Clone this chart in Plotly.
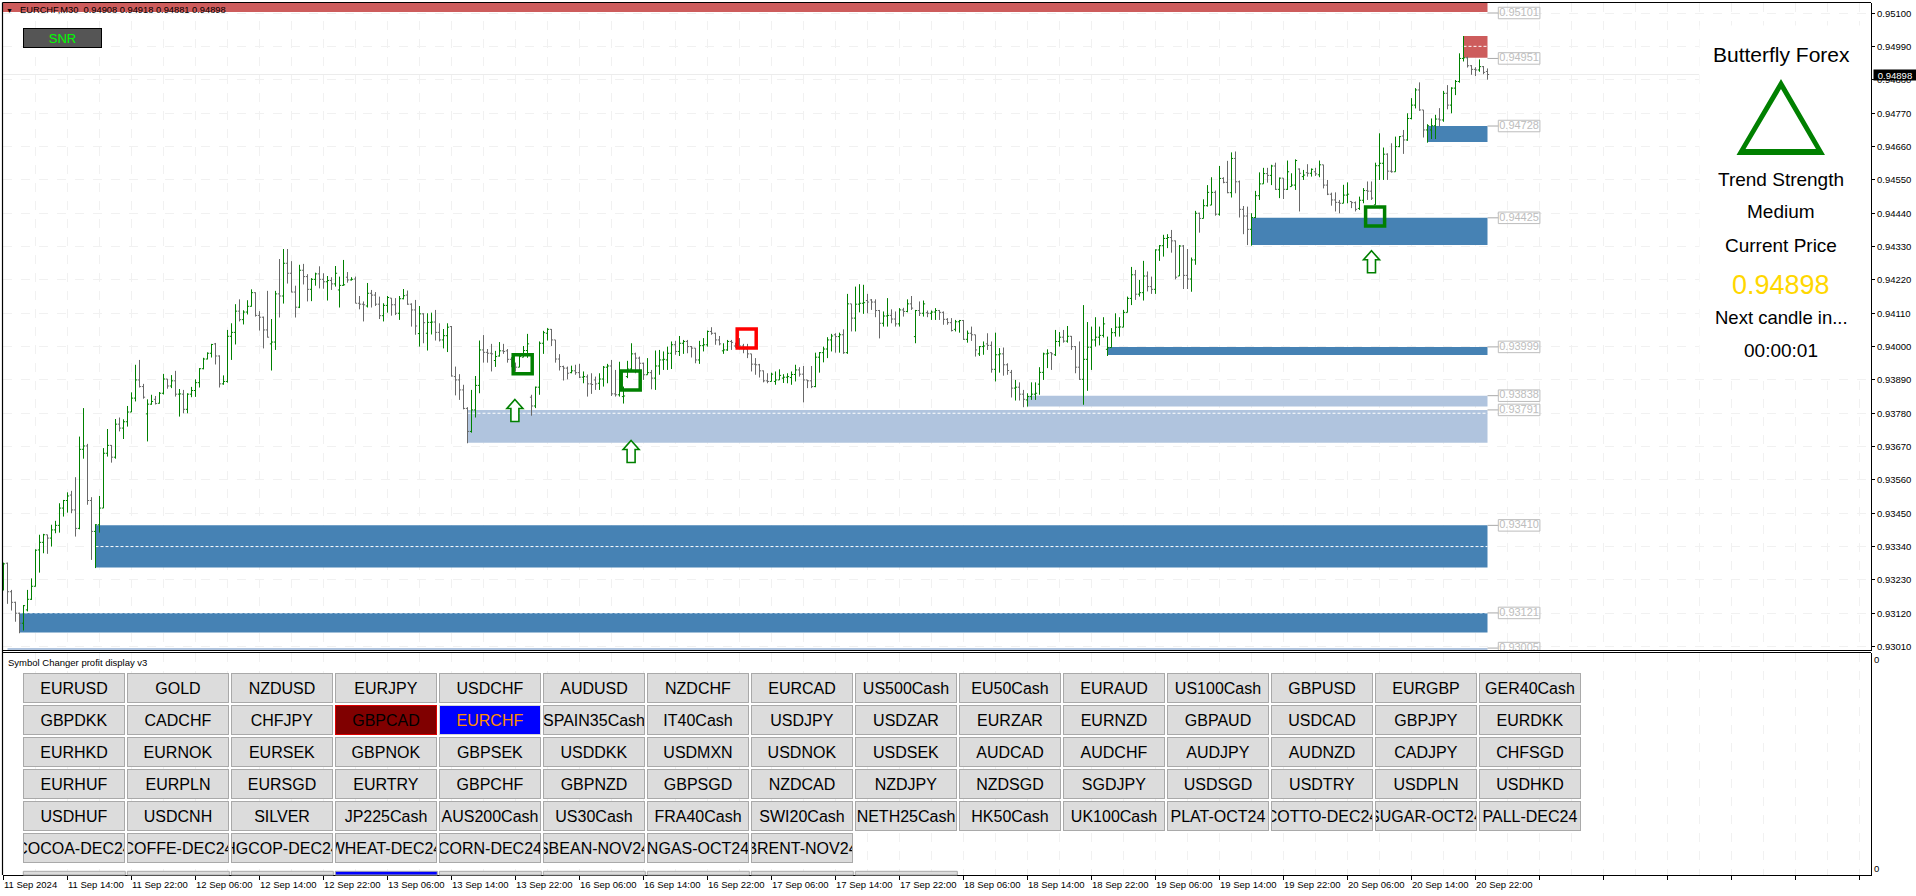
import plotly.graph_objects as go

# prices are kept in points (1e-5)
bar_open = [
    93208,93285,93191,93156,93120,93087,93131,93166,93209,93329,93354,93379,93368,93395,93410,93467,93492,93510,93461,93400,
    93661,93672,93492,93390,93412,93467,93648,93674,93635,93744,93731,93752,93784,93830,93890,93868,93778,93810,93826,93813,
    93846,93893,93870,93887,93843,93843,93793,93843,93855,93881,93927,93959,93978,94009,93969,93877,93885,94034,94047,94117,
    94089,94114,94133,94178,94103,94097,94055,94009,94015,94174,94167,94275,94242,94180,94130,94252,94231,94189,94222,94240,
    94222,94214,94218,94207,94187,94202,94229,94220,94223,94143,94140,94134,94176,94170,94140,94102,94136,94160,94138,94110,
    94158,94170,94140,94121,94043,94108,94044,94080,94081,94047,94022,94036,94066,93901,93890,93857,93796,93720,93791,93872,
    93989,93981,93978,93954,93969,93986,93986,93958,93945,93932,93965,93987,93833,93804,93866,94011,94044,94057,94022,93959,
    93934,93929,93914,93920,93914,93899,93900,93877,93890,93879,93893,93932,93936,93844,93841,93835,93901,93926,93976,93962,
    93945,93907,93914,93896,93936,93956,93956,93978,94006,93984,94011,94017,94000,93995,93956,94003,94006,94050,94044,94022,
    93986,93989,94017,94002,94011,94002,93992,93976,93942,93940,93920,93887,93885,93885,93890,93896,93899,93898,93908,93923,
    93909,93890,93887,93868,93965,93980,93992,94022,94039,94033,94039,93980,94141,94094,94140,94143,94152,94154,94147,94119,
    94077,94101,94103,94091,94075,94121,94116,94141,94033,94119,94110,94112,94110,94114,94119,94113,94090,94079,94057,94082,
    94086,94024,94044,94039,93976,94000,94009,94004,93925,93973,93976,93940,93915,93863,93866,93843,93824,93835,93843,93876,
    93915,93976,93980,93973,94017,94031,94018,94034,94000,93932,93892,93958,93998,94022,94031,94037,93991,93997,94046,94064,
    94064,94113,94159,94237,94173,94178,94233,94198,94189,94319,94333,94357,94360,94349,94233,94332,94235,94223,94286,94440,
    94423,94465,94467,94509,94437,94555,94542,94508,94621,94544,94453,94431,94387,94426,94498,94537,94571,94565,94596,94519,
    94556,94519,94528,94533,94586,94561,94574,94572,94577,94567,94600,94533,94503,94484,94476,94473,94500,94479,94475,94456,
    94483,94515,94513,94468,94597,94605,94635,94579,94577,94660,94695,94682,94753,94797,94847,94781,94715,94715,94729,94751,
    94748,94836,94797,94853,94875,94951,94953,94927,94915,94913,94924,94908,
]
bar_high = [
    93287,93287,93197,93158,93122,93147,93197,93235,93331,93379,93382,93379,93412,93425,93483,93494,93519,93524,93569,93703,
    93797,93679,93503,93414,93507,93665,93728,93675,93761,93766,93760,93804,93849,93940,93956,93877,93826,93841,93837,93850,
    93910,93893,93906,93920,93860,93857,93846,93867,93892,93929,93963,93981,94009,94012,93971,93905,94055,94077,94140,94156,
    94120,94153,94189,94179,94117,94099,94184,94091,94184,94289,94322,94322,94282,94201,94270,94273,94239,94226,94244,94265,
    94242,94233,94229,94266,94231,94286,94246,94229,94231,94167,94149,94210,94187,94180,94165,94143,94167,94160,94160,94167,
    94190,94185,94143,94154,94134,94110,94110,94112,94121,94077,94058,94077,94068,93934,93909,93874,93800,93857,93903,94020,
    94038,93992,94009,93986,94015,94009,93992,93965,93947,93976,94002,94042,93841,93868,94017,94052,94061,94058,94022,93975,
    93937,93934,93937,93940,93943,93918,93908,93912,93901,93912,93936,93943,93956,93923,93950,93868,93953,94011,93980,93967,
    93947,93962,93923,93987,93989,93984,94000,94017,94019,94035,94022,94022,94002,93995,94019,94028,94053,94064,94046,94035,
    94011,94022,94022,94013,94028,94009,94009,93976,93962,93943,93921,93912,93914,93918,93925,93909,93912,93918,93940,93932,
    93936,93890,93936,93980,93982,94000,94031,94042,94044,94046,94057,94174,94141,94198,94206,94204,94174,94157,94156,94121,
    94116,94160,94123,94116,94127,94128,94156,94167,94121,94149,94152,94119,94119,94127,94121,94116,94094,94094,94088,94088,
    94088,94053,94066,94039,94002,94017,94044,94017,94046,93995,93997,93945,93923,93890,93882,93857,93846,93882,93882,93932,
    93980,93991,93981,94055,94048,94055,94068,94035,94002,94017,94137,94081,94066,94097,94066,94097,94033,94061,94110,94097,
    94121,94165,94263,94253,94220,94283,94248,94231,94321,94335,94369,94371,94385,94350,94335,94335,94322,94294,94448,94442,
    94486,94533,94559,94515,94596,94559,94613,94641,94644,94548,94464,94462,94440,94514,94575,94590,94590,94600,94607,94558,
    94556,94614,94572,94618,94588,94583,94602,94588,94590,94614,94600,94550,94508,94509,94484,94534,94542,94479,94479,94495,
    94523,94545,94545,94607,94704,94657,94638,94671,94693,94695,94715,94770,94820,94853,94872,94781,94734,94753,94765,94787,
    94844,94863,94856,94880,94968,95025,94957,94929,94922,94948,94926,94918,
]
bar_low = [
    93195,93151,93129,93092,93054,93063,93126,93164,93208,93254,93318,93316,93340,93384,93386,93439,93452,93450,93373,93397,
    93630,93478,93296,93269,93386,93467,93637,93617,93630,93720,93695,93736,93784,93819,93865,93828,93687,93808,93809,93812,
    93842,93861,93863,93835,93769,93780,93780,93833,93834,93865,93925,93958,93964,93941,93865,93874,93881,93956,94007,94083,
    94073,94106,94132,94099,94053,93994,94030,93921,93989,94096,94142,94208,94179,94096,94127,94205,94149,94150,94201,94192,
    94191,94152,94187,94198,94129,94201,94211,94218,94143,94123,94083,94129,94129,94134,94091,94083,94112,94102,94104,94088,
    94156,94138,94066,94039,94000,94011,93987,94040,94020,94017,93994,93982,93901,93839,93824,93793,93681,93716,93766,93846,
    93947,93947,93918,93933,93967,93976,93947,93932,93917,93932,93965,93963,93772,93797,93841,93976,94020,94002,93947,93921,
    93888,93892,93912,93907,93896,93879,93835,93844,93857,93857,93868,93879,93837,93835,93835,93812,93896,93918,93912,93921,
    93890,93907,93859,93857,93907,93923,93923,93926,93973,93969,93976,93978,93964,93945,93943,93984,94000,94039,94006,94004,
    93976,93986,93989,93996,93991,93978,93962,93918,93907,93898,93882,93879,93885,93874,93890,93880,93879,93874,93885,93901,
    93816,93863,93863,93866,93914,93948,93962,93984,93980,93980,93976,93976,94050,94050,94113,94108,94110,94121,94097,94027,
    94066,94066,94077,94066,94066,94099,94113,94121,94011,94101,94099,94097,94088,94088,94088,94072,94072,94050,94050,94046,
    94022,94013,94019,93967,93969,93973,93989,93914,93885,93914,93904,93907,93832,93822,93822,93800,93802,93824,93824,93841,
    93890,93929,93923,93969,94000,94013,94013,93989,93912,93890,93808,93854,93923,94000,94004,94030,93969,93997,94033,94033,
    94064,94113,94137,94154,94165,94152,94182,94174,94174,94283,94297,94325,94310,94222,94233,94190,94190,94181,94270,94376,
    94423,94462,94467,94432,94432,94539,94506,94492,94506,94426,94371,94335,94333,94424,94484,94537,94541,94533,94517,94490,
    94487,94517,94528,94517,94446,94550,94561,94561,94563,94559,94522,94500,94465,94446,94440,94473,94473,94457,94446,94451,
    94473,94484,94484,94468,94550,94550,94550,94574,94577,94658,94636,94679,94750,94786,94778,94690,94673,94685,94685,94726,
    94742,94783,94770,94830,94871,94941,94921,94897,94893,94907,94899,94881,
]
bar_close = [
    93283,93191,93156,93120,93087,93145,93166,93209,93328,93354,93379,93368,93395,93410,93467,93492,93507,93461,93400,93661,
    93672,93492,93390,93412,93467,93648,93674,93635,93744,93731,93752,93784,93830,93890,93868,93833,93810,93819,93812,93846,
    93893,93870,93887,93843,93844,93793,93843,93855,93881,93927,93959,93978,94007,93969,93877,93885,94034,94047,94117,94089,
    94114,94133,94178,94103,94097,94055,94031,94015,94174,94167,94275,94242,94180,94130,94252,94231,94189,94222,94240,94222,
    94214,94218,94207,94242,94202,94204,94220,94222,94143,94140,94138,94176,94170,94140,94102,94136,94162,94138,94110,94158,
    94168,94140,94121,94068,94108,94079,94080,94081,94047,94022,94036,94064,93903,93890,93857,93796,93720,93791,93872,93989,
    93981,93978,93976,93967,93986,93984,93958,93950,93932,93967,93987,94009,93804,93866,94011,94046,94057,94022,93959,93934,
    93929,93912,93920,93914,93899,93901,93877,93875,93877,93893,93932,93936,93844,93841,93904,93837,93926,93976,93962,93945,
    93907,93914,93896,93936,93956,93958,93978,94006,93984,94011,94017,94000,93995,93956,94003,94006,94050,94044,94022,94009,
    93989,94017,94014,94000,94002,93992,93976,93942,93940,93920,93887,93885,93909,93890,93905,93899,93901,93908,93923,93909,
    93890,93887,93868,93965,93980,93992,94022,94035,94033,94039,93980,94141,94094,94140,94143,94145,94147,94147,94119,94077,
    94101,94103,94091,94075,94121,94116,94141,94127,94119,94110,94141,94110,94114,94119,94113,94090,94079,94053,94082,94086,
    94024,94044,94039,93989,94000,94002,94004,93925,93973,93976,93940,93921,93863,93866,93843,93826,93835,93843,93846,93915,
    93976,93978,93976,94017,94031,94018,94034,94000,93932,93892,93958,93998,94022,94031,94037,94075,93996,94046,94064,94065,
    94113,94159,94237,94173,94178,94233,94198,94189,94319,94333,94357,94360,94349,94229,94332,94235,94223,94286,94440,94423,
    94465,94509,94509,94437,94555,94542,94508,94621,94544,94453,94431,94387,94426,94498,94537,94571,94565,94596,94519,94556,
    94519,94577,94533,94614,94572,94566,94572,94585,94570,94600,94533,94503,94484,94476,94473,94500,94503,94475,94453,94483,
    94515,94513,94490,94597,94605,94635,94579,94577,94660,94693,94682,94753,94797,94847,94781,94715,94729,94729,94751,94748,
    94836,94797,94853,94875,94951,94953,94927,94915,94913,94924,94905,94898,
]

tick_labels = [
    "11 Sep 2024", "11 Sep 14:00", "11 Sep 22:00", "12 Sep 06:00", "12 Sep 14:00", "12 Sep 22:00",
    "13 Sep 06:00", "13 Sep 14:00", "13 Sep 22:00", "16 Sep 06:00", "16 Sep 14:00", "16 Sep 22:00",
    "17 Sep 06:00", "17 Sep 14:00", "17 Sep 22:00", "18 Sep 06:00", "18 Sep 14:00", "18 Sep 22:00",
    "19 Sep 06:00", "19 Sep 14:00", "19 Sep 22:00", "20 Sep 06:00", "20 Sep 14:00", "20 Sep 22:00",
]
price_ticks = [95100, 94990, 94880, 94770, 94660, 94550, 94440, 94330, 94220, 94110, 94000,
               93890, 93780, 93670, 93560, 93450, 93340, 93230, 93120, 93010]

# zones: first bar, top, bottom, kind, level printed in the box
zone_start = [-1, 365, 356, 312, 276, 256, 116, 23, 4, 1]
zone_top = [95140, 95025, 94728, 94425, 93999, 93838, 93791, 93410, 93121, 93005]
zone_bottom = [95104, 94953, 94675, 94335, 93972, 93802, 93683, 93271, 93056, 92950]
zone_kind = ["supply", "supply", "strong", "strong", "strong", "weak", "weak", "strong", "strong", "weak"]
zone_level = [95101, 94951, 94728, 94425, 93999, 93838, 93791, 93410, 93121, 93005]
zone_end = 371

mid_start = [365, 116, 23, 4]
mid_price = [94991, 93780, 93340, 93121]

signal_bar = [129.8, 156.8, 342.9, 185.8]
signal_price = [93942, 93888, 94429, 94027]
signal_color = ["#008000", "#008000", "#008000", "#ff0000"]

arrow_bar = [127.85, 156.9, 342]
arrow_price = [93789, 93654, 94280]

symbols = [
    ["EURUSD", "GOLD", "NZDUSD", "EURJPY", "USDCHF", "AUDUSD", "NZDCHF", "EURCAD", "US500Cash", "EU50Cash", "EURAUD", "US100Cash", "GBPUSD", "EURGBP", "GER40Cash"],
    ["GBPDKK", "CADCHF", "CHFJPY", "GBPCAD", "EURCHF", "SPAIN35Cash", "IT40Cash", "USDJPY", "USDZAR", "EURZAR", "EURNZD", "GBPAUD", "USDCAD", "GBPJPY", "EURDKK"],
    ["EURHKD", "EURNOK", "EURSEK", "GBPNOK", "GBPSEK", "USDDKK", "USDMXN", "USDNOK", "USDSEK", "AUDCAD", "AUDCHF", "AUDJPY", "AUDNZD", "CADJPY", "CHFSGD"],
    ["EURHUF", "EURPLN", "EURSGD", "EURTRY", "GBPCHF", "GBPNZD", "GBPSGD", "NZDCAD", "NZDJPY", "NZDSGD", "SGDJPY", "USDSGD", "USDTRY", "USDPLN", "USDHKD"],
    ["USDHUF", "USDCNH", "SILVER", "JP225Cash", "AUS200Cash", "US30Cash", "FRA40Cash", "SWI20Cash", "NETH25Cash", "HK50Cash", "UK100Cash", "PLAT-OCT24", "COTTO-DEC24", "SUGAR-OCT24", "PALL-DEC24"],
    ["COCOA-DEC24", "COFFE-DEC24", "HGCOP-DEC24", "WHEAT-DEC24", "CORN-DEC24", "SBEAN-NOV24", "NGAS-OCT24", "BRENT-NOV24"],
]

FONT = "Liberation Sans"
W, H = 1916, 896
LEFT, RIGHT, TOP, BOTTOM = 3, 1871, 3, 875
MAIN_BOTTOM, SUB_TOP = 650.5, 652.5
PW, PH = RIGHT - LEFT, BOTTOM - TOP
PANEL_X = 1781


def xp(px):
    return (px - LEFT) / PW


def yp(py):
    return 1 - (py - TOP) / PH


def pts(v):
    return v / 1e5


colors = {"supply": "#cd5c5c", "strong": "#4682b4", "weak": "#b0c4de"}
bars = list(range(len(bar_open)))

fig = go.Figure()
fig.add_trace(go.Ohlc(
    x=bars,
    open=[pts(v) for v in bar_open], high=[pts(v) for v in bar_high],
    low=[pts(v) for v in bar_low], close=[pts(v) for v in bar_close],
    increasing=dict(line=dict(color="#008000", width=1)),
    decreasing=dict(line=dict(color="#696969", width=1)),
    tickwidth=0.4, showlegend=False, hoverinfo="skip",
))
fig.add_trace(go.Scatter(
    x=signal_bar, y=[pts(v) for v in signal_price], mode="markers",
    marker=dict(symbol="square-open", size=19, color=signal_color, line=dict(width=3.5, color=signal_color)),
    showlegend=False, hoverinfo="skip",
))
# level boxes text, clipped by the axes like the boxes are
fig.add_trace(go.Scatter(
    x=[378.9] * len(zone_level), y=[pts(v) for v in zone_level], mode="text",
    text=[f"{pts(v):.5f}" for v in zone_level],
    textfont=dict(family=FONT, size=11, color="#bdbdbd"), textposition="middle center",
    cliponaxis=True, showlegend=False, hoverinfo="skip",
))
fig.add_trace(go.Scatter(x=[0, 0], y=[0, 1], yaxis="y2", mode="none", showlegend=False, hoverinfo="skip"))

shapes = []
# price line and zones sit over the grid, under the bars
shapes.append(dict(type="line", xref="x", yref="y", x0=-1, x1=424, y0=pts(bar_close[-1]), y1=pts(bar_close[-1]),
                   line=dict(color="#ececec", width=1), layer="between"))
shapes.append(dict(type="rect", xref="x", yref="y", x0=424, x1=466.6, y0=0.93900, y1=0.95060,
                   fillcolor="white", line_width=0, layer="between"))
for s, t, b, k, lv in zip(zone_start, zone_top, zone_bottom, zone_kind, zone_level):
    shapes.append(dict(type="rect", xref="x", yref="y", x0=s, x1=zone_end, y0=pts(b), y1=pts(t),
                       fillcolor=colors[k], line_width=0, layer="between"))
    shapes.append(dict(type="line", xref="x", yref="y", x0=zone_end, x1=373.7, y0=pts(lv), y1=pts(lv),
                       line=dict(color="#a9a9a9", width=1)))
    shapes.append(dict(type="rect", xref="x", yref="y", x0=373.7, x1=384.1, y0=pts(lv - 19), y1=pts(lv + 19),
                       fillcolor="rgba(0,0,0,0)", line=dict(color="#bdbdbd", width=1)))
for s, p in zip(mid_start, mid_price):
    shapes.append(dict(type="line", xref="x", yref="y", x0=s, x1=zone_end, y0=pts(p), y1=pts(p),
                       line=dict(color="white", width=1, dash="3px,2px"), layer="between"))
for b, p in zip(arrow_bar, arrow_price):
    shapes.append(dict(type="path", xref="x", yref="y", xsizemode="pixel", ysizemode="pixel",
                       xanchor=b, yanchor=pts(p),
                       path="M 0 11 L 8 2 L 4 2 L 4 -11 L -4 -11 L -4 2 L -8 2 Z",
                       fillcolor="white", line=dict(color="#008000", width=1.6)))

# panel frame
frame = [(2.5, 2.5, RIGHT, 2.5), (2.5, 2.5, 2.5, BOTTOM), (2.5, MAIN_BOTTOM, RIGHT, MAIN_BOTTOM),
         (2.5, SUB_TOP, RIGHT, SUB_TOP)]
for x0, y0, x1, y1 in frame:
    shapes.append(dict(type="line", xref="paper", yref="paper", x0=xp(x0), x1=xp(x1), y0=yp(y0), y1=yp(y1),
                       line=dict(color="black", width=1.2)))

# trend triangle
tri = [(PANEL_X, 79), (PANEL_X + 44, 155), (PANEL_X - 44.5, 155)]
inner = [(PANEL_X, 89), (PANEL_X + 35, 149), (PANEL_X - 35.5, 149)]
path = ""
for poly in (tri, inner):
    path += "M " + " L ".join(f"{xp(a):.5f} {yp(b):.5f}" for a, b in poly) + " Z "
shapes.append(dict(type="path", xref="paper", yref="paper", path=path, fillcolor="#008000",
                   fillrule="evenodd", line_width=0))

notes = []
BTN_X, BTN_Y, BTN_W, BTN_H, PITCH_X, PITCH_Y = 23.3, 673.3, 102, 30, 104, 32
for r, row in enumerate(symbols):
    for c, name in enumerate(row):
        bg, border, txt = "#dcdcdc", "#a9a9a9", "black"
        if name == "GBPCAD":
            bg, border = "#800000", "#dc0000"
        if name == "EURCHF":
            bg, border, txt = "#0000ff", "#d3d3d3", "#ff8c00"
        notes.append(dict(
            xref="paper", yref="paper", showarrow=False, text=name,
            x=xp(BTN_X + c * PITCH_X + BTN_W / 2), y=yp(BTN_Y + r * PITCH_Y + BTN_H / 2),
            xanchor="center", yanchor="middle", width=BTN_W - 2, height=BTN_H - 2,
            bgcolor=bg, bordercolor=border, borderwidth=1, borderpad=0,
            font=dict(family=FONT, size=16, color=txt),
        ))
# seventh row of buttons is cut off by the date axis
for c in range(9):
    x0 = BTN_X + c * PITCH_X
    shapes.append(dict(type="rect", xref="paper", yref="paper", x0=xp(x0), x1=xp(x0 + BTN_W), y0=yp(BOTTOM), y1=yp(871.3),
                       fillcolor="#0000ff" if c == 3 else "#dcdcdc", line=dict(color="#a9a9a9", width=1)))


def note(text, x, y, size, color="black", anchor="center", **kw):
    notes.append(dict(xref="paper", yref="paper", x=xp(x), y=yp(y), text=text, showarrow=False,
                      xanchor=anchor, yanchor="middle", font=dict(family=FONT, size=size, color=color), **kw))


note("EURCHF,M30\u00a0\u00a00.94908 0.94918 0.94881 0.94898", 17.5, 10.5, 9.3, anchor="left")
note("\u25bc", 9.8, 10.5, 7)
note("SNR", 62.8, 38, 13, "#00ff00", bgcolor="#555555", bordercolor="black", borderwidth=1, borderpad=0, width=77, height=18)
note("Symbol Changer profit display v3", 5.5, 662, 9.5, anchor="left")
note("Butterfly Forex", PANEL_X, 55, 21)
note("Trend Strength", PANEL_X, 179, 19)
note("Medium", PANEL_X, 211.7, 19)
note("Current Price", PANEL_X, 245, 19)
note(f"{pts(bar_close[-1]):.5f}", PANEL_X, 285, 27, "#ffd700")
note("Next candle in...", PANEL_X, 317, 18.5)
note("00:00:01", PANEL_X, 350, 19)

for i, lab in enumerate(tick_labels):
    notes.append(dict(xref="x", yref="paper", x=i * 16, y=yp(884.5), text=lab, showarrow=False, xanchor="left",
                      yanchor="middle", xshift=-2, font=dict(family=FONT, size=9.5, color="black")))
# current price flag on the axis
notes.append(dict(xref="paper", yref="y", x=xp(1872.5), y=pts(bar_close[-1]), text=f"{pts(bar_close[-1]):.5f}",
                  showarrow=False, xanchor="left", yanchor="middle", bgcolor="black", width=42, height=10, borderpad=0,
                  font=dict(family=FONT, size=9.5, color="white")))

grid = dict(color="#f1f1f1", dash="dash")
fig.update_layout(
    width=W, height=H, autosize=False, paper_bgcolor="white", plot_bgcolor="white",
    margin=dict(l=LEFT, r=W - RIGHT, t=TOP, b=H - BOTTOM, pad=0),
    font=dict(family=FONT, size=9.5, color="black"), showlegend=False,
    xaxis=dict(
        anchor="y2", range=[-0.125, 466.875], rangeslider=dict(visible=False), showticklabels=False,
        tickmode="linear", tick0=0, dtick=16, ticks="outside", ticklen=4, tickcolor="black",
        showgrid=True, gridcolor=grid["color"], griddash=grid["dash"], gridwidth=1,
        minor=dict(tick0=0, dtick=8, showgrid=True, gridcolor=grid["color"], griddash=grid["dash"], gridwidth=1),
        showline=True, linecolor="black", linewidth=1.2, zeroline=False,
    ),
    yaxis=dict(
        domain=[1 - (MAIN_BOTTOM - TOP) / PH, 1], side="right", range=[0.92997, 0.95134], anchor="x",
        tickvals=[pts(v) for v in price_ticks], tickformat=".5f", ticks="outside", ticklen=3, tickcolor="black",
        showgrid=True, gridcolor=grid["color"], griddash=grid["dash"], gridwidth=1,
        showline=True, linecolor="black", linewidth=1.2, zeroline=False,
    ),
    yaxis2=dict(
        domain=[0, (BOTTOM - SUB_TOP) / PH], side="right", anchor="x",
        range=[-(875 - 868.6) / 209, 1 + (659.6 - 652.5) / 209],
        tickvals=[0, 1], ticktext=["0", "0"], ticks="", showgrid=False, zeroline=False,
        showline=True, linecolor="black", linewidth=1.2,
    ),
    shapes=shapes, annotations=notes,
)

fig.write_html("out.html", config={"displayModeBar": False},
               post_script="document.body.style.margin='0';document.body.style.overflow='hidden';")
